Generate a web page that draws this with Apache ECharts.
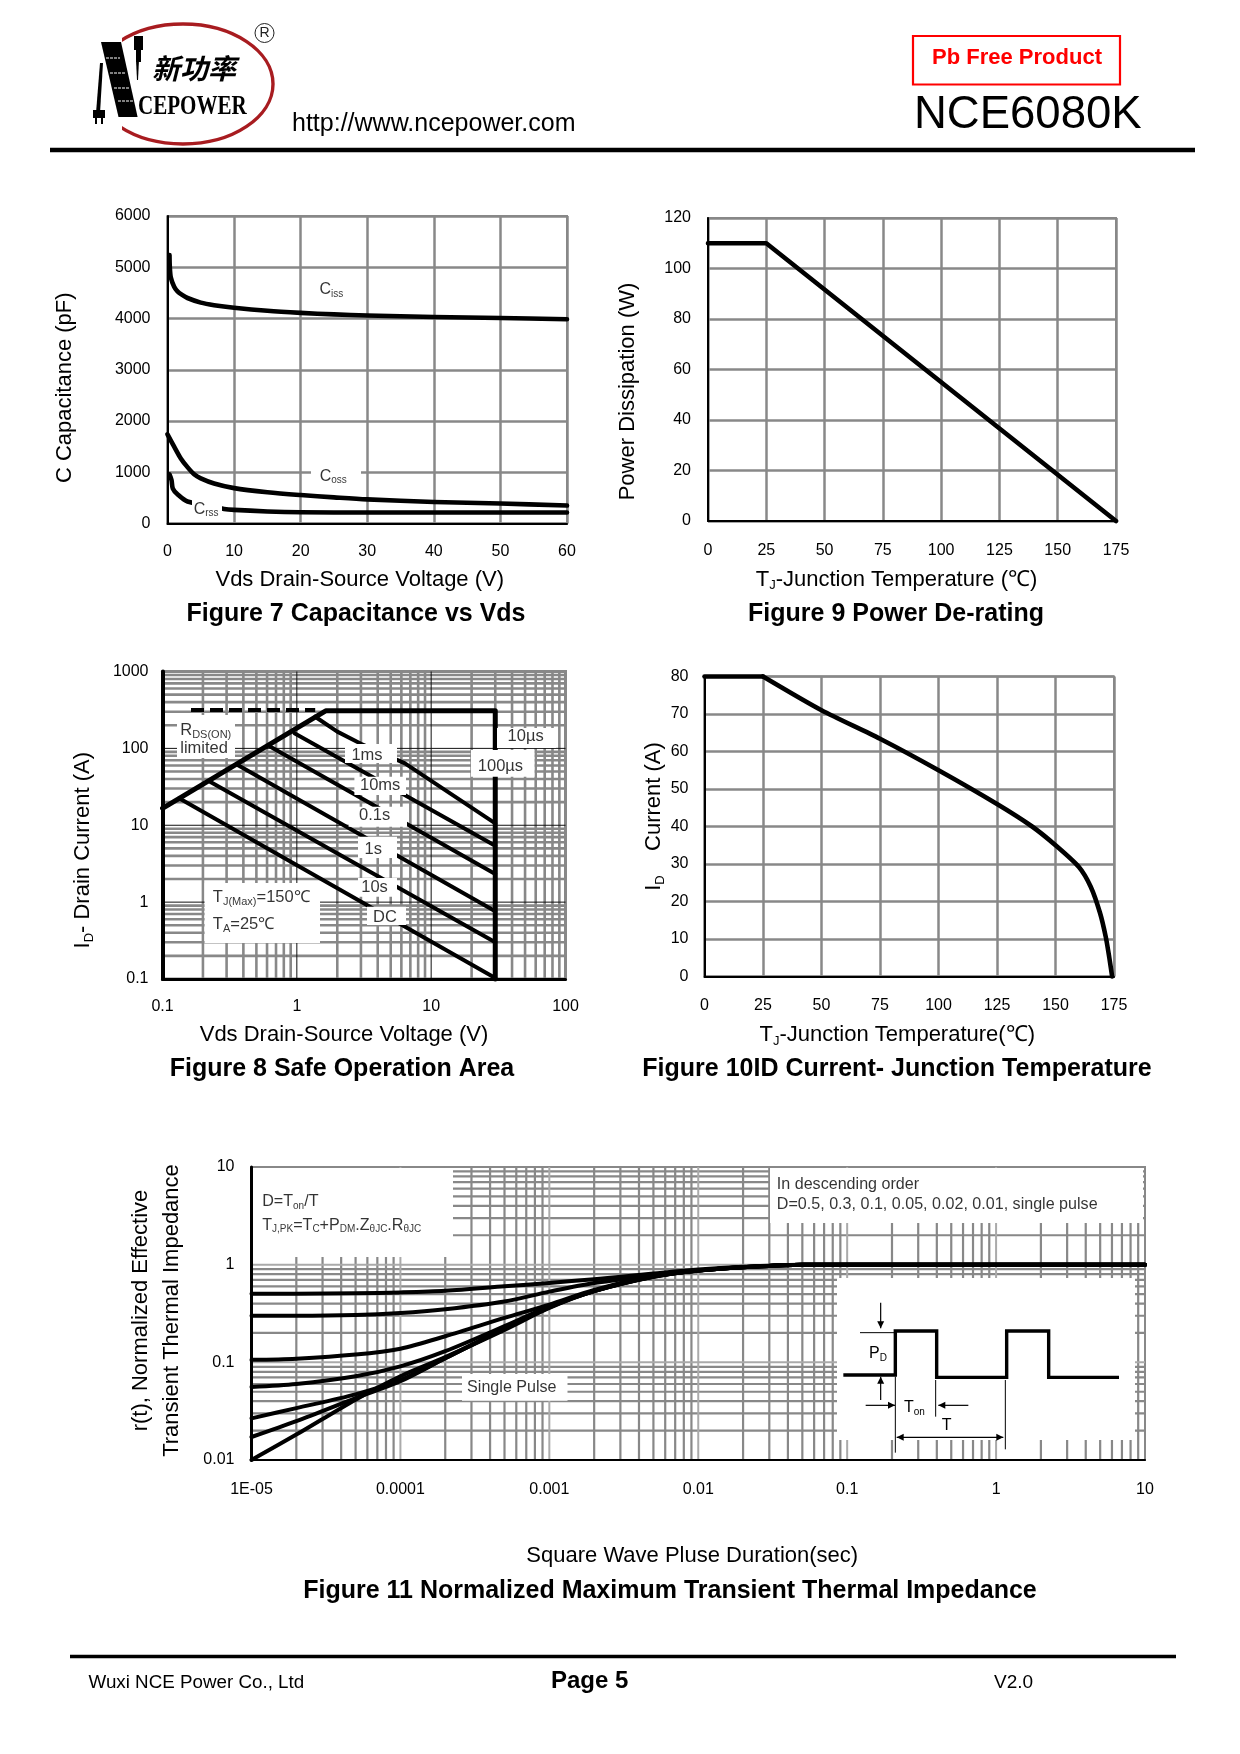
<!DOCTYPE html>
<html><head><meta charset="utf-8"><style>html,body{margin:0;padding:0;background:#fff}#c{width:1240px;height:1754px}</style>
<script src="https://cdn.jsdelivr.net/npm/echarts@6/dist/echarts.min.js"></script></head>
<body><div id="c"></div>
<script>
// ---------- data ----------
const cissV=[0.3,0.35,0.5,1,1.5,2.2,3,5,7,10,15,20,25,30,40,50,60];
const cissC=[5240,5000,4800,4620,4530,4460,4400,4310,4260,4210,4150,4110,4080,4060,4030,4010,3985];
const cossV=[0,1,2,3,4,5,7,10,15,20,25,30,40,50,60];
const cossC=[1740,1500,1270,1100,960,880,780,690,610,555,510,470,420,390,350];
const crssV=[0.3,0.6,0.8,1.5,3,8.5,10,15,20,30,40,50,60];
const crssC=[960,850,680,570,430,285,265,235,220,215,215,215,215];
const powerT=[0,25,175];
const powerW=[110,110,0];
const idFlatT=[0,25];
const idFlatA=[80,80];
const idT=[25,50,75,100,125,140,150,160,165,169,171.5,173,174.2];
const idA=[80,71,63.4,55,46,40,35,29.2,24,17,10.5,5,0];
const soaLimitV=[0.1,1.64,30,30];
const soaLimitI=[16.6,308,308,0.1];
const soaDashV=[0.163,1.37];
const soaDashI=[316,316];
const soa1msV=[1.37,2,3,6.38,30];   const soa1msI=[258,165,115,63.8,10.6];
const soa10msV=[0.96,30];  const soa10msI=[157,5.4];
const soa01sV=[0.636,30];  const soa01sI=[105,2.33];
const soa1sV=[0.363,30];   const soa1sI=[60.8,0.76];
const soa10sV=[0.226,30];  const soa10sI=[36.9,0.30];
const soaDcV=[0.133,30];   const soaDcI=[22.4,0.103];
const thermalT=[1e-5,2e-5,5e-5,1e-4,2e-4,5e-4,1e-3,2e-3,5e-3,1e-2,2e-2,5e-2,0.1,1,10];
const thermalD05=[.505,.505,.51,.52,.54,.60,.65,.71,.81,.89,.95,1,1,1,1];
const thermalD03=[.30,.30,.305,.32,.35,.42,.53,.65,.77,.87,.94,1,1,1,1];
const thermalD01=[.106,.109,.12,.138,.185,.285,.39,.55,.77,.87,.94,1,1,1,1];
const thermalD005=[.056,.06,.072,.091,.13,.235,.375,.54,.76,.87,.94,1,1,1,1];
const thermalD002=[.0267,.034,.047,.066,.11,.225,.37,.535,.755,.87,.94,1,1,1,1];
const thermalD001=[.0172,.025,.043,.064,.11,.22,.365,.535,.75,.87,.94,1,1,1,1];
const thermalSingle=[.0100,.0182,.0415,.072,.113,.215,.36,.535,.75,.87,.94,1,1,1,1];
const soaXTicks=['0.1','1','10','100'];
const soaYTicks=['0.1','1','10','100','1000'];
const thermalXTicks=['1E-05','0.0001','0.001','0.01','0.1','1','10'];
const thermalYTicks=['0.01','0.1','1','10'];

// ---------- helpers ----------
const F='Liberation Sans', GREY='#888888';
const zip=(a,b)=>a.map((v,i)=>[v,b[i]]);
const decades=(lo,hi)=>{const o=[];for(let e=lo;e<hi;e++)for(let m=2;m<=9;m++)o.push(+(m+'e'+e));return o;};
const exps=(lo,hi)=>{const o=[];for(let e=lo;e<=hi;e++)o.push(+('1e'+e));return o;};
function rich(size,sub){return {b:{fontFamily:F,fontSize:size,color:'#000',lineHeight:size+3},
  s:{fontFamily:F,fontSize:sub,color:'#000',verticalAlign:'bottom',lineHeight:size+3,padding:[Math.round(size*.3),0,0,0]}};}
function valAxis(o){return Object.assign({type:'value',axisTick:{show:false},z:3,
  axisLine:{onZero:false,lineStyle:{color:'#000',width:2}},
  splitLine:{show:true,lineStyle:{color:GREY,width:2.5}},
  nameLocation:'middle'},o);}
const xLab=(m,f)=>({fontFamily:F,fontSize:16,color:'#000',margin:m,formatter:f||(v=>String(v))});
const yLab=(m,f)=>({fontFamily:F,fontSize:16,color:'#000',margin:m,padding:[4,0,0,0],formatter:f||(v=>String(v))});
const nameStyle=(pad,extra)=>Object.assign({fontFamily:F,fontSize:22,color:'#000',padding:pad},extra||{});
const decadeFmt=(ticks,base)=>v=>ticks[Math.round(Math.log10(v))-base];
function logAxis(o,w){return valAxis(Object.assign({type:'log',logBase:10,
  axisLine:{onZero:false,lineStyle:{color:'#000',width:w}},
  splitLine:{show:false}},o));}
function gridLines(idx,xr,yr,xs,ys,color,width){
  const pts=[];
  xs.forEach(v=>pts.push([v,yr[0]],[v,yr[1]],[null,null]));
  ys.forEach(v=>pts.push([xr[0],v],[xr[1],v],[null,null]));
  return {type:'line',xAxisIndex:idx,yAxisIndex:idx,data:pts,z:1,silent:true,showSymbol:false,symbol:'none',
    connectNulls:false,clip:true,lineStyle:{color:color,width:width,cap:'butt'}};}
function curve(idx,name,xs,ys,width,smooth,extra){return Object.assign({type:'line',name:name,xAxisIndex:idx,yAxisIndex:idx,
  data:zip(xs,ys),showSymbol:false,symbol:'none',smooth:smooth||false,clip:false,z:3,silent:true,
  lineStyle:{color:'#000',width:width,cap:'round',join:'round'}},extra||{});}
function notes(idx,items,size,sub){return {type:'scatter',xAxisIndex:idx,yAxisIndex:idx,symbolSize:0,z:6,silent:true,
  itemStyle:{color:'transparent'},
  data:items.map(it=>({value:[it[0],it[1]],label:{show:true,formatter:it[2],position:it[3]?[0,0]:'inside',
    align:it[3]?'left':'center',verticalAlign:'middle',fontFamily:F,fontSize:size,color:'#000',rich:rich(size,sub)}}))};}
function figTitle(text,cx,cy,size){return {text:text,left:cx,top:cy-size*0.38,textAlign:'center',padding:0,
  textStyle:{fontFamily:F,fontWeight:'bold',fontSize:size,color:'#000'}};}

// ---------- layout ----------
const grids=[
 {left:167.5,top:216,width:399.5,height:307.5},
 {left:162.5,top:671.5,width:403,height:307.5,borderWidth:3},
 {left:708,top:218,width:408,height:303},
 {left:704.5,top:676.5,width:409.5,height:300},
 {left:251.5,top:1167,width:893.5,height:293}
].map(g=>Object.assign({show:true,borderColor:GREY,borderWidth:2,backgroundColor:'#fff'},g));

const xAxes=[
 valAxis({gridIndex:0,min:0,max:60,interval:10,axisLabel:xLab(20),name:'Vds Drain-Source Voltage (V)',nameGap:45,
   nameTextStyle:nameStyle([0,15,0,0])}),
 logAxis({gridIndex:1,min:0.1,max:100,axisLabel:xLab(20,decadeFmt(soaXTicks,-1)),name:'Vds Drain-Source Voltage (V)',nameGap:45,
   nameTextStyle:nameStyle([0,40,0,0])},3),
 valAxis({gridIndex:2,min:0,max:175,interval:25,axisLabel:xLab(22),name:'{b|T}{s|J}{b|-Junction Temperature (℃)}',nameGap:46,
   nameTextStyle:nameStyle([0,31,0,0],{rich:rich(22,13)})}),
 valAxis({gridIndex:3,min:0,max:175,interval:25,axisLabel:xLab(21),name:'{b|T}{s|J}{b|-Junction Temperature(℃)}',nameGap:46,
   nameTextStyle:nameStyle([0,24,0,0],{rich:rich(22,13)})}),
 logAxis({gridIndex:4,min:1e-5,max:10,axisLabel:xLab(22,decadeFmt(thermalXTicks,-5)),name:'Square Wave Pluse Duration(sec)',nameGap:85,
   nameTextStyle:nameStyle([0,12,0,0])},2)
];
const yAxes=[
 valAxis({gridIndex:0,min:0,max:6000,interval:1000,axisLabel:yLab(17),name:'C Capacitance (pF)',nameGap:92,
   nameTextStyle:nameStyle([0,36,0,0])}),
 logAxis({gridIndex:1,min:0.1,max:1000,axisLabel:yLab(14,decadeFmt(soaYTicks,-1)),name:'{b|I}{s|D}{b|- Drain Current (A)}',nameGap:67,
   nameTextStyle:nameStyle([0,50,0,0],{rich:rich(22,13)})},4),
 valAxis({gridIndex:2,min:0,max:120,interval:20,axisLabel:yLab(17),name:'Power Dissipation (W)',nameGap:69,
   nameTextStyle:nameStyle([0,44,0,0])}),
 valAxis({gridIndex:3,min:0,max:80,interval:10,axisLabel:yLab(16),name:'{b|I}{s|D}{b|    Current (A)}',nameGap:38,
   nameTextStyle:nameStyle([0,0,0,20],{rich:rich(22,13)})}),
 logAxis({gridIndex:4,min:0.01,max:10,axisLabel:yLab(17,decadeFmt(thermalYTicks,-2)),name:'r(t), Normalized Effective\nTransient Thermal Impedance',nameGap:64,
   nameTextStyle:nameStyle([0,0,0,6],{lineHeight:31})},3)
];

const soaXR=[0.1,100], soaYR=[0.1,1000], thXR=[1e-5,10], thYR=[0.01,10];
const series=[
 // figure 7
 curve(0,'Ciss',cissV,cissC,4.6,0.3),
 curve(0,'Coss',cossV,cossC,4.6,0.3),
 curve(0,'Crss',crssV,crssC,4.6,0.3),
 notes(0,[[24.6,4567,'{b|C}{s|iss}'],[24.9,924,'{b|C}{s|oss}'],[5.8,280,'{b|C}{s|rss}']],16,10),
 // figure 8
 gridLines(1,soaXR,soaYR,decades(-1,2),decades(-1,3),GREY,2.6),
 gridLines(1,soaXR,soaYR,exps(0,1),exps(0,2),'#111',1),
 curve(1,'limit',soaLimitV,soaLimitI,5),
 curve(1,'dash',soaDashV,soaDashI,4,false,{lineStyle:{color:'#000',width:4,type:[13,6]}}),
 curve(1,'1ms',soa1msV,soa1msI,4),
 curve(1,'10ms',soa10msV,soa10msI,4),
 curve(1,'0.1s',soa01sV,soa01sI,4),
 curve(1,'1s',soa1sV,soa1sI,4),
 curve(1,'10s',soa10sV,soa10sI,4),
 curve(1,'DC',soaDcV,soaDcI,4),
 notes(1,[[3.33,81.9,'1ms'],[4.17,32.7,'10ms'],[3.79,13.4,'0.1s'],[3.7,4.88,'1s'],[3.79,1.57,'10s'],[4.53,0.638,'DC'],[50.5,142,'10µs'],[32.8,58.9,'100µs'],
   [0.1355,170,'{b|R}{s|DS(ON)}',1],[0.1355,98.8,'limited',1],[0.237,1.14,'{b|T}{s|J(Max)}{b|=150℃}',1],[0.237,0.508,'{b|T}{s|A}{b|=25℃}',1]],16.5,11),
 // figure 9
 curve(2,'Power',powerT,powerW,4.6),
 // figure 10
 curve(3,'ID flat',idFlatT,idFlatA,4.6),
 curve(3,'ID',idT,idA,4.6,0.25),
 // figure 11
 gridLines(4,thXR,thYR,decades(-5,1),decades(-2,1),GREY,2.2),
 gridLines(4,thXR,thYR,exps(-4,0),exps(-1,0),'#aaaaaa',2),
 curve(4,'D=0.5',thermalT,thermalD05,4,0.3),
 curve(4,'D=0.3',thermalT,thermalD03,4,0.3),
 curve(4,'D=0.1',thermalT,thermalD01,4,0.3),
 curve(4,'D=0.05',thermalT,thermalD005,4,0.3),
 curve(4,'D=0.02',thermalT,thermalD002,4,0.3),
 curve(4,'D=0.01',thermalT,thermalD001,4,0.3),
 curve(4,'single pulse',thermalT,thermalSingle,4,0.3),
 notes(4,[[5.6e-4,0.0555,'Single Pulse'],
   [1.18e-5,4.38,'{b|D=T}{s|on}{b|/T}',1],[1.18e-5,2.54,'{b|T}{s|J,PK}{b|=T}{s|C}{b|+P}{s|DM}{b|.Z}{s|θJC}{b|.R}{s|θJC}',1],
   [0.0337,6.68,'In descending order',1],[0.0337,4.17,'D=0.5, 0.3, 0.1, 0.05, 0.02, 0.01, single pulse',1]],16.1,10)
];

// ---------- page furniture ----------
const G=[];
const txt=(x,y,t,size,o)=>G.push({type:'text',x:x,y:y,z:(o&&o.z)||7,silent:true,scaleX:o&&o.sx||1,style:Object.assign({text:t,fontFamily:F,fontSize:size,fill:'#000',textAlign:'left',textVerticalAlign:'middle'},o&&o.style)});
const rect=(x1,y1,x2,y2,o)=>G.push(Object.assign({type:'rect',z:4,silent:true,shape:{x:x1,y:y1,width:x2-x1,height:y2-y1},style:{fill:'#fff'}},o));
const line=(x1,y1,x2,y2,w,c,z)=>G.push({type:'line',z:z||5,silent:true,shape:{x1,y1,x2,y2},style:{stroke:c||'#000',lineWidth:w}});
const poly=(pts,c,z)=>G.push({type:'polygon',z:z||5,silent:true,shape:{points:pts},style:{fill:c||'#000'}});

// white masks behind annotations
[[345,744,397,763],[354.4,776.7,406,795],[348.6,806.7,407,826.7],[358,836.7,397,858],[358,878,397,896.7],[367,906.7,406,925],
 [497,728,556,748],[471,750,534.5,776.7],[177,715,235,758],[204.6,883,320,943],
 [192,498,222,520],[311,465,361,487],
 [253,1168,453,1257],[770,1168,1143,1223],[462,1374,567.5,1400.7],[837,1278,1135,1440]
].forEach(r=>rect(r[0],r[1],r[2],r[3]));

// header
txt(292,124,'http://www.ncepower.com',25);
rect(913,36,1120,84.5,{z:5,style:{fill:'#fff',stroke:'#ff0000',lineWidth:2.2}});
txt(1017,58,'Pb Free Product',22,{style:{fill:'#ff0000',fontWeight:'bold',textAlign:'center'}});
txt(914,115,'NCE6080K',45.5);
// footer
line(70,1656.5,1176,1656.5,3.6);
txt(88.5,1683,'Wuxi NCE Power Co., Ltd',18.8);
txt(551,1681,'Page 5',24,{style:{fontWeight:'bold'}});
txt(994,1683,'V2.0',19);
// logo
G.push({type:'ellipse',z:5,silent:true,shape:{cx:183,cy:84,rx:90,ry:60},style:{fill:'none',stroke:'#a81c20',lineWidth:3.4}});
rect(88,20,122,147,{z:5});
line(50,150,1195,150,4.5,'#000',6);
poly([[101,42],[121,42],[137.6,117],[118.5,117]]);
poly([[100,63],[103,63],[100,113],[96,113]]);
poly([[136,60],[139,60],[138,80],[137,80]]);
rect(134,36,143,50,{z:6,style:{fill:'#000'}});
rect(136,50,141,62,{z:6,style:{fill:'#000'}});
rect(93,110,105,118,{z:6,style:{fill:'#000'}});
rect(95,118,97,124,{z:6,style:{fill:'#000'}});
rect(101,118,103,124,{z:6,style:{fill:'#000'}});
[[106,58,120,58],[110,73,125,73],[114,88,129,88],[118,101,133,101]].forEach(l=>G.push({type:'line',z:6,silent:true,shape:{x1:l[0],y1:l[1],x2:l[2],y2:l[3]},style:{stroke:'#fff',lineWidth:1,lineDash:[3,1]}}));
txt(152,68,'新功率',28,{style:{fontFamily:'Noto Sans CJK SC',fontWeight:'bold',fontStyle:'italic'}});
txt(138,107,'CEPOWER',27,{sx:.78,style:{fontFamily:'Liberation Serif',fontWeight:'bold'}});
G.push({type:'circle',z:5,silent:true,shape:{cx:264.5,cy:33,r:9.5},style:{fill:'none',stroke:'#222',lineWidth:1}});
txt(264.5,33.5,'R',14,{style:{textAlign:'center',fill:'#222'}});

// pulse inset
const px=c=>660+c/3, py=c=>1150+c/3;
const P=a=>a.map(p=>[px(p[0]),py(p[1])]);
G.push({type:'polyline',z:5,silent:true,shape:{points:P([[550,675],[706,675],[706,543],[830,543],[830,682],[1040,682],[1040,543],[1166,543],[1166,682],[1377,682]])},style:{stroke:'#000',fill:'none',lineWidth:3.4}});
[[600,548,705,548],[706,680,706,908],[827,690,827,800],[1036,690,1036,898]].forEach(l=>line(px(l[0]),py(l[1]),px(l[2]),py(l[3]),1));
function arrow(x1,y1,x2,y2){line(px(x1),py(y1),px(x2),py(y2),1.2);
  const a=Math.atan2(y2-y1,x2-x1),L=7,W=3.5,X=px(x2),Y=py(y2);
  poly([[X,Y],[X-L*Math.cos(a)-W*Math.sin(a),Y-L*Math.sin(a)+W*Math.cos(a)],[X-L*Math.cos(a)+W*Math.sin(a),Y-L*Math.sin(a)-W*Math.cos(a)]]);}
arrow(662,458,662,535);arrow(662,750,662,680);arrow(617,766,705,766);arrow(925,766,835,766);arrow(870,862,710,862);arrow(870,862,1030,862);
txt(px(627),py(612),'{b|P}{s|D}',16,{style:{rich:rich(16,10)}});
txt(px(732),py(772),'{b|T}{s|on}',16,{style:{rich:rich(16,10)}});
txt(px(845),py(828),'T',16);

const option={animation:false,backgroundColor:'#fff',
 title:[figTitle('Figure 7 Capacitance vs Vds',356,611,25),
        figTitle('Figure 8 Safe Operation Area',342,1066,25),
        figTitle('Figure 9 Power De-rating',896,611,25),
        figTitle('Figure 10ID Current- Junction Temperature',897,1066.5,25),
        figTitle('Figure 11 Normalized Maximum Transient Thermal Impedance',670,1588,25)],
 grid:grids,xAxis:xAxes,yAxis:yAxes,series:series,graphic:{elements:G}};
echarts.init(document.getElementById('c'),null,{renderer:'canvas'}).setOption(option);
</script></body></html>
